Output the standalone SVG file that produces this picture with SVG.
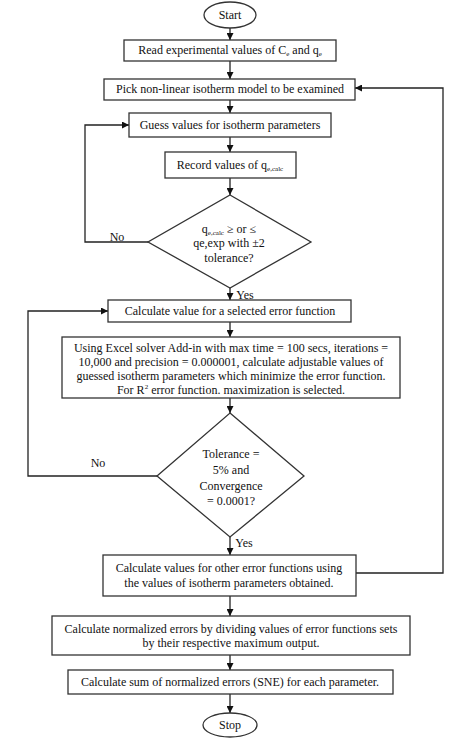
<svg xmlns="http://www.w3.org/2000/svg" width="474" height="741" viewBox="0 0 474 741">
<defs>
<marker id="ah" viewBox="0 0 10 10" refX="10" refY="5" markerWidth="7" markerHeight="7" markerUnits="userSpaceOnUse" orient="auto">
<path d="M0,0 L10,5 L0,10 z" fill="#111"/>
</marker>
<style>
.box{fill:#fff;stroke:#333;stroke-width:1.3}
.t{font-family:"Liberation Serif","Times New Roman",serif;font-size:12px;fill:#111;text-anchor:middle}
.s{font-size:7px}
.c{fill:none;stroke:#222;stroke-width:1.3}
.a{marker-end:url(#ah)}
</style>
</defs>
<rect width="474" height="741" fill="#fff"/>
<g id="connectors">
<line class="c a" x1="230" y1="28" x2="230" y2="40"/>
<line class="c a" x1="230" y1="61" x2="230" y2="79"/>
<line class="c a" x1="230" y1="100" x2="230" y2="113"/>
<line class="c a" x1="230" y1="137" x2="230" y2="152"/>
<line class="c a" x1="230" y1="178" x2="230" y2="195"/>
<line class="c a" x1="230" y1="288" x2="230" y2="300"/>
<polyline class="c a" points="148,242 85,242 85,125 129,125"/>
<line class="c a" x1="230" y1="322" x2="230" y2="337"/>
<line class="c a" x1="230" y1="398" x2="230" y2="413"/>
<polyline class="c a" points="157,476 28,476 28,311 108,311"/>
<line class="c a" x1="230" y1="537" x2="230" y2="555"/>
<polyline class="c a" points="356,573 443,573 443,88 355,88"/>
<line class="c a" x1="230" y1="596" x2="230" y2="616"/>
<line class="c a" x1="230" y1="655" x2="230" y2="670"/>
<line class="c a" x1="230" y1="694" x2="230" y2="713"/>
<text class="t" x="117" y="241">No</text>
<text class="t" x="245" y="299">Yes</text>
<text class="t" x="98" y="467">No</text>
<text class="t" x="244" y="547">Yes</text>
</g>
<g id="start">
<ellipse class="box" cx="230" cy="15" rx="26" ry="13"/>
<text class="t" x="230" y="19">Start</text>
</g>
<g id="read">
<rect class="box" x="124" y="40" width="212" height="21"/>
<text class="t" x="230" y="54">Read experimental values of C<tspan class="s" dy="2">e</tspan><tspan dy="-2"> and q</tspan><tspan class="s" dy="2">e</tspan></text>
</g>
<g id="pick">
<rect class="box" x="104" y="79" width="251" height="21"/>
<text class="t" x="230" y="93">Pick non-linear isotherm model to be examined</text>
</g>
<g id="guess">
<rect class="box" x="129" y="113" width="202" height="24"/>
<text class="t" x="230" y="129">Guess values for isotherm parameters</text>
</g>
<g id="record">
<rect class="box" x="165" y="152" width="131" height="26"/>
<text class="t" x="230" y="169">Record values of q<tspan class="s" dy="2">e,calc</tspan></text>
</g>
<g id="decision1">
<polygon class="box" points="230,195 311,242 230,288 148,242"/>
<text class="t" x="229" y="233">q<tspan class="s" dy="2">e,calc</tspan><tspan dy="-2"> ≥ or ≤</tspan></text>
<text class="t" x="229" y="247">qe,exp with ±2</text>
<text class="t" x="229" y="262">tolerance?</text>
</g>
<g id="calcvalue">
<rect class="box" x="108" y="300" width="243" height="22"/>
<text class="t" x="230" y="315">Calculate value for a selected error function</text>
</g>
<g id="excel">
<rect class="box" x="62" y="337" width="338" height="61"/>
<text class="t" x="231" y="352">Using Excel solver Add-in with max time = 100 secs, iterations =</text>
<text class="t" x="231" y="366">10,000 and precision = 0.000001, calculate adjustable values of</text>
<text class="t" x="231" y="380">guessed isotherm parameters which minimize the error function.</text>
<text class="t" x="231" y="394">For R<tspan class="s" dy="-5">2</tspan><tspan dy="5"> error function. maximization is selected.</tspan></text>
</g>
<g id="decision2">
<polygon class="box" points="230,413 304,476 230,537 157,476"/>
<text class="t" x="231" y="458">Tolerance =</text>
<text class="t" x="231" y="474">5% and</text>
<text class="t" x="231" y="490">Convergence</text>
<text class="t" x="231" y="505">= 0.0001?</text>
</g>
<g id="calcother">
<rect class="box" x="103" y="555" width="253" height="41"/>
<text class="t" x="229" y="572">Calculate values for other error functions using</text>
<text class="t" x="229" y="587">the values of isotherm parameters obtained.</text>
</g>
<g id="normalized">
<rect class="box" x="52" y="616" width="358" height="39"/>
<text class="t" x="231" y="633">Calculate normalized errors by dividing values of error functions sets</text>
<text class="t" x="231" y="647">by their respective maximum output.</text>
</g>
<g id="sne">
<rect class="box" x="68" y="670" width="325" height="24"/>
<text class="t" x="230" y="686">Calculate sum of normalized errors (SNE) for each parameter.</text>
</g>
<g id="stop">
<ellipse class="box" cx="230" cy="725" rx="27" ry="12"/>
<text class="t" x="230" y="729">Stop</text>
</g>
</svg>
